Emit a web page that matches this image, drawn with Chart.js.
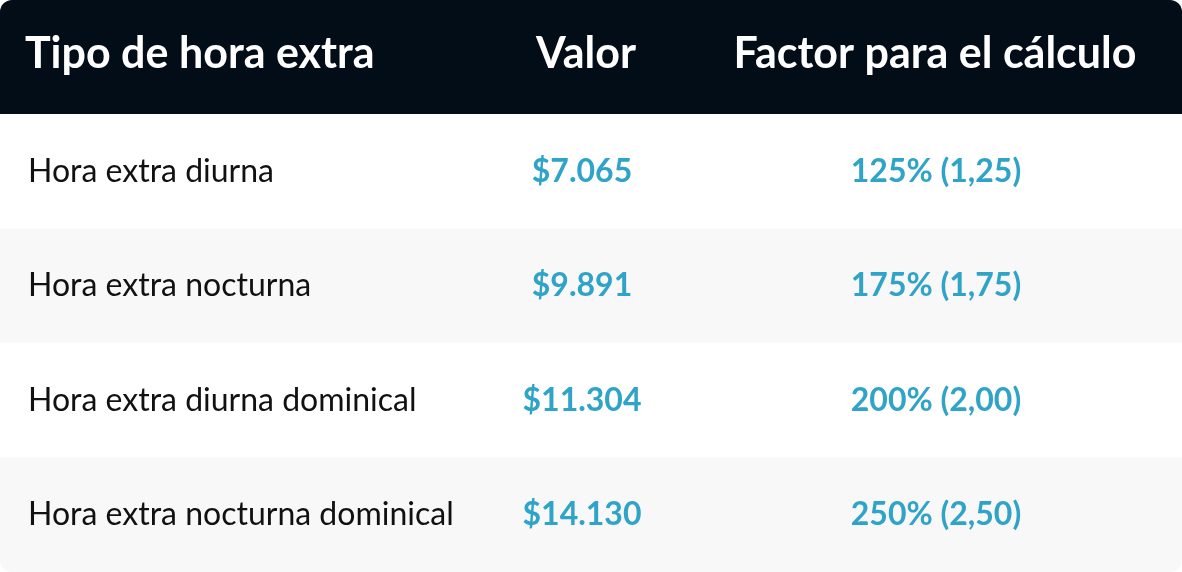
<!DOCTYPE html>
<html>
<head>
<meta charset="utf-8">
<script src="https://cdn.jsdelivr.net/npm/chart.js@4"></script>
<style>
  html, body { margin: 0; padding: 0; background: #fff; }
  #wrap { width: 1182px; height: 572px; border-radius: 12px; overflow: hidden; }
</style>
</head>
<body>
<div id="wrap"><canvas id="tabla" width="1182" height="572"></canvas></div>
<script>
// Table data
const headers = ['Tipo de hora extra', 'Valor', 'Factor para el cálculo'];
const tipos = ['Hora extra diurna', 'Hora extra nocturna', 'Hora extra diurna dominical', 'Hora extra nocturna dominical'];
const valores = ['$7.065', '$9.891', '$11.304', '$14.130'];
const factores = ['125% (1,25)', '175% (1,75)', '200% (2,00)', '250% (2,50)'];

const rowLabels = ['header'].concat(tipos);
const rowColors = ['#020d18', '#ffffff', '#f8f8f8', '#ffffff', '#f8f8f8'];

// x positions in 0..1 scale units
const colX = { tipoHead: 25 / 1182, valorHead: 586 / 1182, factorHead: 935 / 1182,
               tipo: 28 / 1182, valor: 582 / 1182, factor: 936 / 1182 };

const FONT = '"Lato", "Open Sans", sans-serif';

const tableText = {
    id: 'tableText',
    afterDatasetsDraw(chart) {
        const ctx = chart.ctx;
        const x = chart.scales.x;
        const y = chart.scales.y;
        ctx.save();
        ctx.textBaseline = 'middle';

        // header row
        const hy = y.getPixelForValue(0) - 3;
        ctx.fillStyle = '#ffffff';
        ctx.font = 'bold 43px ' + FONT;
        ctx.textAlign = 'left';
        ctx.fillText(headers[0], x.getPixelForValue(colX.tipoHead), hy);
        ctx.textAlign = 'center';
        ctx.fillText(headers[1], x.getPixelForValue(colX.valorHead), hy);
        ctx.fillText(headers[2], x.getPixelForValue(colX.factorHead), hy);

        // body rows
        tipos.forEach((t, i) => {
            const ry = y.getPixelForValue(i + 1);
            ctx.fillStyle = '#111111';
            ctx.font = '32px ' + FONT;
            ctx.textAlign = 'left';
            ctx.fillText(t, x.getPixelForValue(colX.tipo), ry);
            ctx.fillStyle = '#2fa3c8';
            ctx.font = 'bold 32px ' + FONT;
            ctx.textAlign = 'center';
            ctx.fillText(valores[i], x.getPixelForValue(colX.valor), ry);
            ctx.fillText(factores[i], x.getPixelForValue(colX.factor), ry);
        });
        ctx.restore();
    }
};

new Chart(document.getElementById('tabla'), {
    type: 'bar',
    data: {
        labels: rowLabels,
        datasets: [{
            data: rowLabels.map(() => [0, 1]),
            backgroundColor: rowColors,
            borderWidth: 0,
            barPercentage: 1,
            categoryPercentage: 1
        }]
    },
    options: {
        indexAxis: 'y',
        responsive: false,
        animation: false,
        layout: { padding: 0 },
        plugins: { legend: { display: false }, tooltip: { enabled: false } },
        scales: {
            x: { min: 0, max: 1, display: false },
            y: { display: false }
        }
    },
    plugins: [tableText]
});
</script>
</body>
</html>
